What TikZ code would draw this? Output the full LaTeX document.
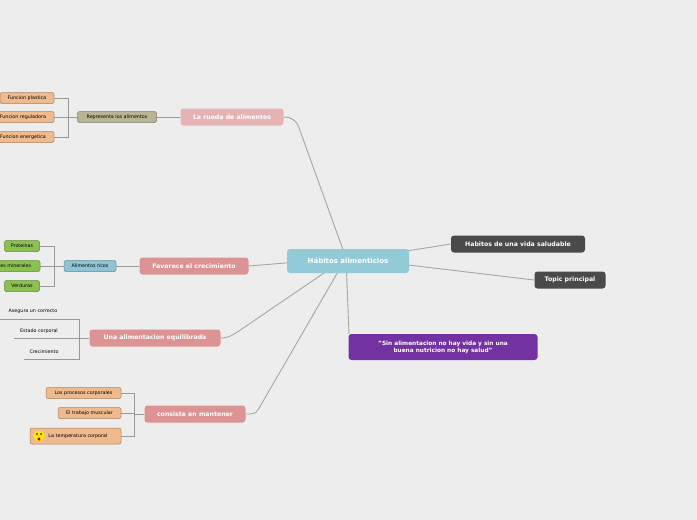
\documentclass[tikz,border=0pt]{standalone}
\usepackage{fontspec}
\setmainfont{DejaVu Sans}
\begin{document}
\begin{tikzpicture}[x=1pt,y=-1pt,
 box/.style={rounded corners=2pt,draw=#1!70!black,fill=#1,font=\fontsize{4.8}{5}\selectfont,inner sep=0pt,minimum height=11pt,line width=0.5pt},
 main/.style={rounded corners=3pt,fill=#1,text=white,font=\bfseries\fontsize{6.2}{7}\selectfont,inner sep=0pt,minimum height=17pt},
 con/.style={draw=gray!70,line width=0.9pt},
 sub/.style={draw=gray!80,line width=0.6pt}]
\definecolor{bg}{HTML}{EDEDED}
\definecolor{cblue}{HTML}{93CAD8}
\definecolor{cpink}{HTML}{E5B3B3}
\definecolor{cred}{HTML}{DB9393}
\definecolor{colive}{HTML}{B8B594}
\definecolor{corange}{HTML}{EFBA8D}
\definecolor{cgreen}{HTML}{8CC152}
\definecolor{clblue}{HTML}{8FC4D4}
\definecolor{cdark}{HTML}{4A4A4A}
\definecolor{cpurple}{HTML}{7331A1}
\fill[bg] (0,0) rectangle (697,520);
\useasboundingbox (0,0) rectangle (697,520);
% central
\coordinate (hub) at (346,258);
\draw[con] (hub) -- (298,125) to[out=120,in=0] (284,117);
\draw[con] (hub) -- (249,266);
\draw[con] (hub) -- (236,333) to[out=-150,in=0] (221,338);
\draw[con] (hub) -- (258,410) to[out=-120,in=0] (246,414);
\draw[con] (hub) -- (349,334);
\draw[con] (400,252) -- (451,244);
\draw[con] (400,264) -- (534,280);
\node[main=cblue,minimum width=122pt,font=\bfseries\fontsize{7}{8}\selectfont,minimum height=24pt] (c) at (348,261) {Hábitos alimenticios};
\node[main=cpink,minimum width=103pt] (r) at (232,117) {La rueda de alimentos};
\node[main=cred,minimum width=109pt] (f) at (194,266) {Favorece el crecimiento};
\node[main=cred,minimum width=131pt] (u) at (155,338) {Una alimentacion equilibrada};
\node[main=cred,minimum width=101pt] (m) at (195,414) {consiste en mantener};
\node[main=cdark,minimum width=134pt] (h) at (518,244) {Habitos de una vida saludable};
\node[main=cdark,minimum width=71pt] (t) at (570,280) {Topic principal};
\node[main=cpurple,minimum width=189pt,minimum height=26pt,align=center,font=\bfseries\fontsize{5.8}{7}\selectfont] (q) at (443,347) {"Sin alimentacion no hay vida y sin una\\buena nutricion no hay salud"};
% rueda
\draw[sub] (r) -- (157,117);
\draw[sub] (78,117) -- (68,117);
\draw[sub] (54,98) -- (68,98) -- (68,137) -- (54,137);
\draw[sub] (54,117) -- (68,117);
\node[box=colive,minimum width=79pt] (ra) at (117,117) {Representa los alimentos};
\node[box=corange,minimum width=54pt] (r1) at (27,98) {Funcion plastica};
\node[box=corange,minimum width=62pt] (r2) at (23,117) {Funcion reguladora};
\node[box=corange,minimum width=62pt] (r3) at (23,137) {Funcion energetica};
% favorece
\draw[sub] (f) -- (116,266);
\draw[sub] (64,266) -- (54,266);
\draw[sub] (40,246) -- (54,246) -- (54,286) -- (40,286);
\draw[sub] (40,266) -- (54,266);
\node[box=clblue,minimum width=52pt] (fa) at (90,266) {Alimentos ricos};
\node[box=cgreen,minimum width=35pt] (f1) at (22,246) {Proteinas};
\node[box=cgreen,minimum width=56pt] (f2) at (12,266) {Sales minerales};
\node[box=cgreen,minimum width=35pt] (f3) at (22,286) {Verduras};
% una
\coordinate (ub) at (79,338);
\draw[sub] (u) -- (ub);
\draw[sub] (0,319) -- (79,319) -- (79,359) -- (24,359);
\draw[sub] (14,338) -- (ub);
\node[font=\fontsize{4.8}{5}\selectfont,anchor=south] (u1) at (33,317.5) {Asegura un correcto};
\node[font=\fontsize{4.8}{5}\selectfont,anchor=south] (u2) at (39,337) {Estado corporal};
\node[font=\fontsize{4.8}{5}\selectfont,anchor=south] (u3) at (44,357.5) {Crecimiento};
% mantener
\draw[sub] (m) -- (134,414);
\draw[sub] (121,393) -- (134,393) -- (134,436) -- (121,436);
\draw[sub] (121,413) -- (134,413);
\node[box=corange,minimum width=75pt] (m1) at (83.5,393) {Los procesos corporales};
\node[box=corange,minimum width=63pt] (m2) at (89.5,413) {El trabajo muscular};
\node[box=corange,minimum width=91pt,minimum height=16pt,text width=84pt,align=left] (m3) at (75.5,436) {\hspace*{15pt}La temperatura corporal};
\fill[yellow!90!orange] (39,436) circle (5.5);
\fill[black] (37,434) circle (0.8) (41,434) circle (0.8);
\fill[red!70!black] (39,439) ellipse (1.5 and 1.8);
\end{tikzpicture}
\end{document}
